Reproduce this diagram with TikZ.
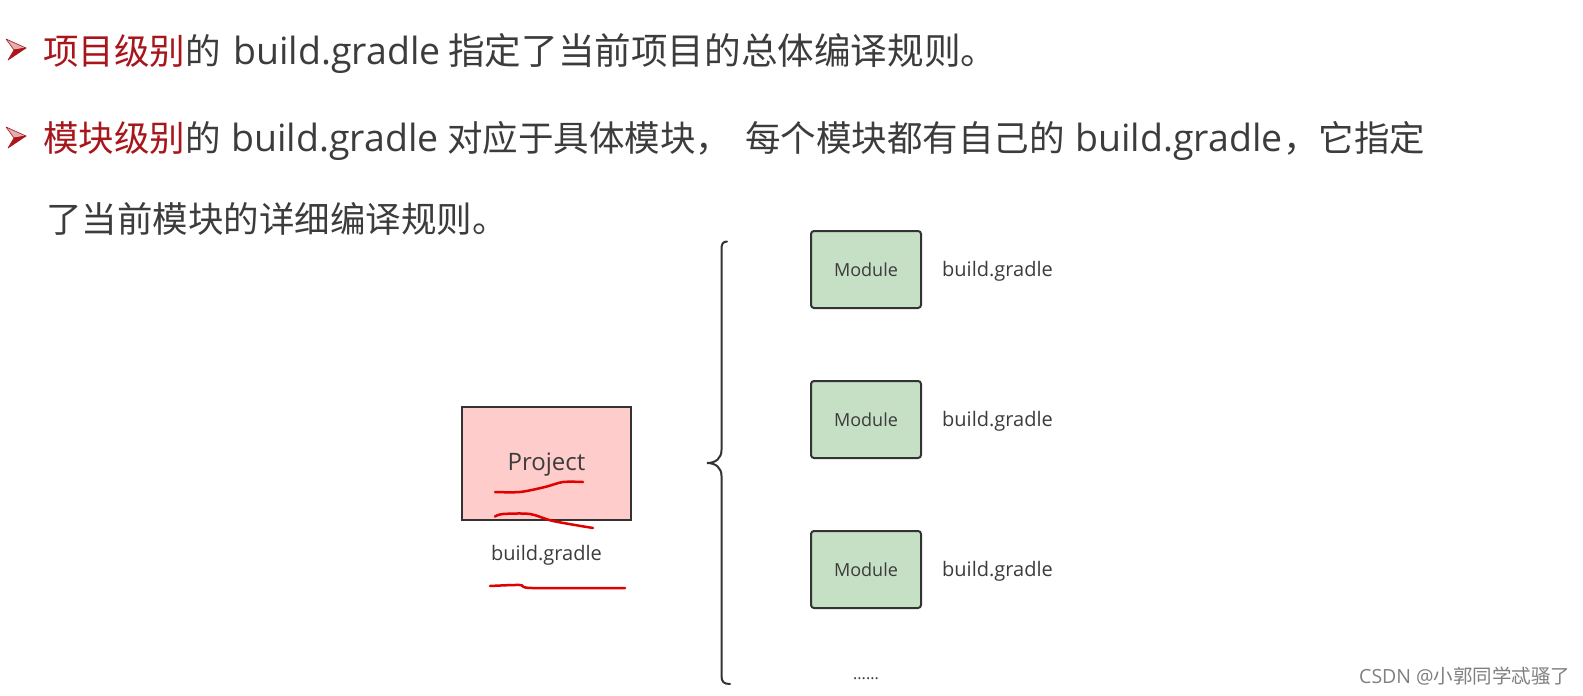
\documentclass[tikz,border=0pt]{standalone}
\usepackage{fontspec}
\setmainfont{Open Sans}
\newfontfamily\cjk{Noto Sans CJK SC}
\definecolor{hl}{HTML}{A8161B}
\definecolor{txt}{HTML}{3C3C3C}
\definecolor{bord}{HTML}{333333}
\definecolor{modfill}{HTML}{C6E0C6}
\definecolor{projfill}{HTML}{FFCCCC}
\definecolor{scrib}{HTML}{E00000}
\tikzset{
  zh/.style={anchor=base west, inner sep=0pt, text=txt, font=\cjk\fontsize{35.5}{40}\selectfont},
  en/.style={anchor=base west, inner sep=0pt, text=txt, font=\fontsize{37.5}{42}\selectfont},
  modbox/.style={draw=bord, line width=2pt, fill=modfill, rounded corners=3pt, minimum width=110pt, minimum height=77pt, inner sep=0pt, text=txt, font=\fontsize{18}{22}\selectfont},
  projbox/.style={draw=bord, line width=1.5pt, fill=projfill, minimum width=169pt, minimum height=113pt, inner sep=0pt},
  lbl/.style={inner sep=0pt, text=txt, font=\fontsize{20}{24}\selectfont},
  scribble/.style={draw=scrib, line width=2.5pt, line cap=round, line join=round},
  brace/.style={draw=bord, line width=2pt, line cap=round},
  markup/.style={fill=hl!35!white, draw=hl, line width=0.6pt, line join=round},
  markdn/.style={fill=hl!90!red, draw=hl, line width=0.6pt, line join=round}
}
\begin{document}
\begin{tikzpicture}[x=1pt, y=-1pt]
\useasboundingbox[fill=white] (0,0) rectangle (1583,696);

% bullet arrows
\foreach \cy/\nm in {48/a1, 136/a2} {
  \begin{scope}[shift={(0,\cy)}]
    \coordinate (\nm tip) at (26,0);
    \coordinate (\nm top) at (6,-9);
    \coordinate (\nm notch) at (14,2);
    \coordinate (\nm bot) at (8,12);
    \path[markup] (\nm top) -- (\nm tip) -- (\nm notch) -- cycle;
    \path[markdn] (\nm notch) -- (\nm tip) -- (\nm bot) -- cycle;
  \end{scope}
}

% line 1
\node[zh] (l1a) at (43,64.5) {{\color{hl}项目级别}的};
\node[en] (l1b) at (233,64.5) {build.gradle};
\node[zh, font=\cjk\fontsize{36.6}{40}\selectfont] (l1c) at (448,64.5) {指定了当前项目的总体编译规则。};
% line 2
\node[zh] (l2a) at (43,151) {{\color{hl}模块级别}的};
\node[en] (l2b) at (231,151) {build.gradle};
\node[zh] (l2c) at (447,151) {对应于具体模块，};
\node[zh] (l2d) at (745,151) {每个模块都有自己的};
\node[en] (l2e) at (1075,151) {build.gradle};
\node[zh] (l2f) at (1283,151) {，它指定};
% line 3
\node[zh] (l3) at (46,232.5) {了当前模块的详细编译规则。};

% project
\node[projbox] (proj) at (546.5,463.5) {};
\node[inner sep=0pt, text=txt, font=\fontsize{24}{28}\selectfont] (projt) at (546.5,465) {Project};
\node[lbl] (projb) at (546.5,555) {build.gradle};

% scribbles
\draw[scribble] plot[smooth] coordinates {(495,492) (520,492) (545,487) (563,482) (583,482)};
\draw[scribble] plot[smooth] coordinates {(495,516.5) (503,514) (530,514) (553,521) (593,528)};
\draw[scribble] plot[smooth] coordinates {(490,586) (520,585) (532,588) (625,588)};

% brace
\draw[brace] (730,684) .. controls (724,684) and (721.5,682) .. (721.5,676)
  -- (721.5,476) .. controls (721.5,468) and (716,463) .. (707,463)
  .. controls (716,463) and (721.5,458) .. (721.5,450)
  -- (721.5,249) .. controls (721.5,244) and (723,241.5) .. (727,241.5);

% modules
\foreach \i/\y in {1/269.5, 2/419.5, 3/569.5} {
  \node[modbox] (m\i) at (866,\y) {Module};
  \node[lbl, anchor=west] (g\i) at (942,\y+1.5) {build.gradle};
}
\node[inner sep=0pt, text=txt, font=\fontsize{16}{18}\selectfont] (dots) at (866,679) {......};

% watermark
\node[anchor=west, inner sep=0pt, text=black!50, font=\fontsize{19.5}{22}\selectfont] (wm) at (1359,676) {CSDN @{\cjk 小郭同学忒骚了}};
\end{tikzpicture}
\end{document}
